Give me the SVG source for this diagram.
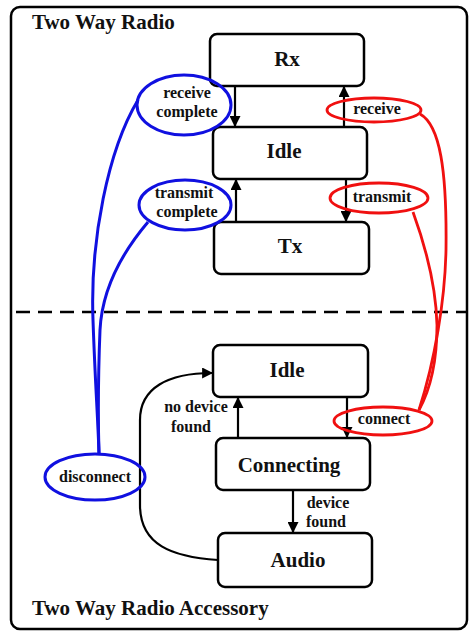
<svg xmlns="http://www.w3.org/2000/svg" width="474" height="640" viewBox="0 0 474 640">
<defs>
<marker id="ah" viewBox="0 0 10 10" refX="9" refY="5" markerWidth="5" markerHeight="5" orient="auto" markerUnits="strokeWidth">
<path d="M0,0 L10,5 L0,10 z" fill="#000"/>
</marker>
<style>
.box{fill:#fff;stroke:#000;stroke-width:2.5}
.bl{font-family:"Liberation Serif","Times New Roman",serif;font-weight:bold;font-size:21px;text-anchor:middle;fill:#111}
.lb{font-family:"Liberation Serif","Times New Roman",serif;font-weight:bold;font-size:16px;text-anchor:middle;fill:#111}
.ti{font-family:"Liberation Serif","Times New Roman",serif;font-weight:bold;font-size:21px;fill:#111}
.ar{fill:none;stroke:#000;stroke-width:2.2;marker-end:url(#ah)}
.eb{fill:none;stroke:#1010e0;stroke-width:3}
.er{fill:none;stroke:#f01010;stroke-width:2.8}
</style>
</defs>
<rect x="0" y="0" width="474" height="640" fill="#fff"/>
<rect id="frame" x="11" y="7" width="456" height="622" rx="9" fill="none" stroke="#000" stroke-width="2.5"/>
<line x1="16" y1="312" x2="466" y2="312" stroke="#000" stroke-width="2.5" stroke-dasharray="14,8"/>
<text class="ti" x="32" y="29">Two Way Radio</text>
<text class="ti" x="32" y="615">Two Way Radio Accessory</text>

<g id="connectors">
<line class="ar" x1="235" y1="87" x2="235" y2="126"/>
<line class="ar" x1="344" y1="127" x2="344" y2="87"/>
<line class="ar" x1="236" y1="222" x2="236" y2="180"/>
<line class="ar" x1="346" y1="179" x2="346" y2="221"/>
<line class="ar" x1="238" y1="438" x2="238" y2="398"/>
<line class="ar" x1="347" y1="397" x2="347" y2="437"/>
<line class="ar" x1="293" y1="490" x2="293" y2="532"/>
<path class="ar" d="M218,560 C172,557 140,545 140,505 L140,420 C140,388 168,373 212,373"/>
<path class="eb" d="M138,100 C108,150 90,240 93,320 C95,380 98,420 99,454"/>
<path class="eb" d="M148,222 C120,255 102,290 100,330 C98,380 98,420 99,454"/>
<path class="er" d="M420,114 C440,125 447,170 446,250 C445,300 435,360 419,410"/>
<path class="er" d="M413,212 C425,245 436,285 437,325 C437,360 430,390 419,410"/>
</g>

<g id="rx"><rect class="box" x="210" y="34" width="154" height="52" rx="7"/><text class="bl" x="287" y="66">Rx</text></g>
<g id="idle1"><rect class="box" x="213" y="127" width="154" height="52" rx="7"/><text class="bl" x="284" y="158">Idle</text></g>
<g id="tx"><rect class="box" x="214" y="222" width="155" height="52" rx="7"/><text class="bl" x="290" y="253">Tx</text></g>
<g id="idle2"><rect class="box" x="213" y="345" width="155" height="52" rx="7"/><text class="bl" x="287" y="377">Idle</text></g>
<g id="connecting"><rect class="box" x="216" y="438" width="154" height="52" rx="7"/><text class="bl" x="289" y="472">Connecting</text></g>
<g id="audio"><rect class="box" x="218" y="533" width="154" height="54" rx="7"/><text class="bl" x="298" y="567">Audio</text></g>

<g id="lbl-receive-complete"><ellipse class="eb" cx="184" cy="105" rx="47" ry="30"/><text class="lb" x="187" y="98">receive</text><text class="lb" x="187" y="117">complete</text></g>
<g id="lbl-receive"><ellipse class="er" cx="374" cy="110" rx="47" ry="12"/><text class="lb" x="377" y="114">receive</text></g>
<g id="lbl-transmit-complete"><ellipse class="eb" cx="185" cy="205" rx="46" ry="25"/><text class="lb" x="184" y="198">transmit</text><text class="lb" x="187" y="217">complete</text></g>
<g id="lbl-transmit"><ellipse class="er" cx="379" cy="198" rx="49" ry="15"/><text class="lb" x="382" y="202">transmit</text></g>
<g id="lbl-disconnect"><ellipse class="eb" cx="95" cy="477" rx="50" ry="23"/><text class="lb" x="95" y="482">disconnect</text></g>
<g id="lbl-connect"><ellipse class="er" cx="383" cy="421" rx="49" ry="14"/><text class="lb" x="384" y="424">connect</text></g>
<g id="lbl-nodevice"><text class="lb" x="196" y="412">no device</text><text class="lb" x="191" y="432">found</text></g>
<g id="lbl-device"><text class="lb" x="328" y="508">device</text><text class="lb" x="326" y="527">found</text></g>
</svg>
